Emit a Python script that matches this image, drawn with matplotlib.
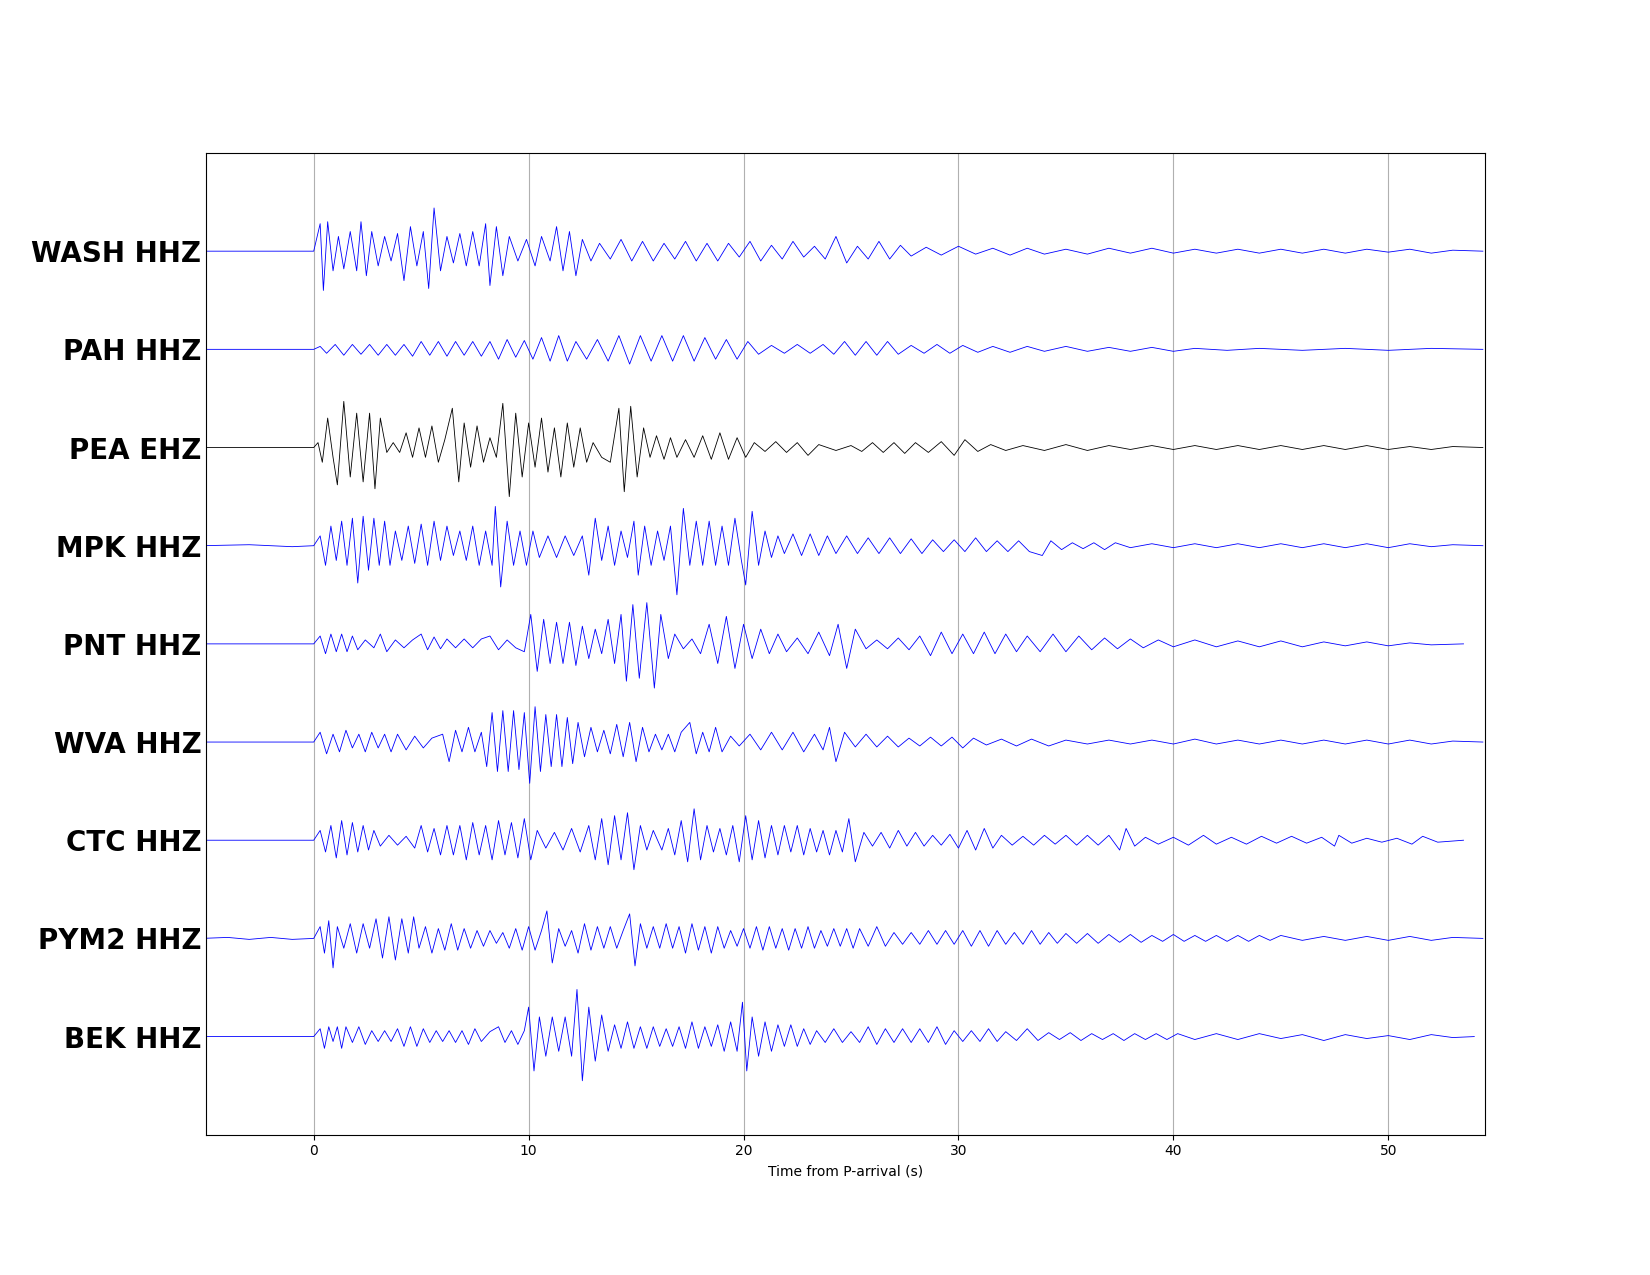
import matplotlib.pyplot as plt
import numpy as np

stations = ["WASH HHZ", "PAH HHZ", "PEA EHZ", "MPK HHZ", "PNT HHZ",
            "WVA HHZ", "CTC HHZ", "PYM2 HHZ", "BEK HHZ"]
colors = ["blue", "blue", "black", "blue", "blue", "blue", "blue", "blue", "blue"]

# peaks: (time s, amplitude in trace spacings)
wash = [(-5.2, 0), (0, 0), (0.3, 0.28), (0.45, -0.4), (0.65, 0.3), (0.9, -0.2), (1.15, 0.15),
        (1.4, -0.18), (1.7, 0.2), (2.0, -0.2), (2.2, 0.3), (2.45, -0.25), (2.7, 0.2), (3.0, -0.15),
        (3.3, 0.15), (3.6, -0.1), (3.9, 0.18), (4.2, -0.3), (4.5, 0.25), (4.8, -0.15), (5.1, 0.2),
        (5.35, -0.38), (5.6, 0.44), (5.9, -0.2), (6.2, 0.15), (6.5, -0.12), (6.8, 0.18), (7.1, -0.15),
        (7.4, 0.2), (7.7, -0.15), (8.0, 0.28), (8.2, -0.35), (8.5, 0.25), (8.8, -0.25), (9.1, 0.15),
        (9.5, -0.1), (9.9, 0.12), (10.3, -0.15), (10.6, 0.15), (11.0, -0.1), (11.3, 0.25),
        (11.6, -0.2), (11.9, 0.2), (12.2, -0.25), (12.5, 0.12), (12.9, -0.1), (13.3, 0.08),
        (13.8, -0.08), (14.3, 0.12), (14.8, -0.1), (15.3, 0.1), (15.8, -0.1), (16.3, 0.08),
        (16.8, -0.08), (17.3, 0.1), (17.8, -0.1), (18.3, 0.08), (18.8, -0.1), (19.3, 0.08),
        (19.8, -0.06), (20.3, 0.1), (20.8, -0.1), (21.3, 0.06), (21.8, -0.08), (22.3, 0.1),
        (22.8, -0.06), (23.3, 0.05), (23.8, -0.08), (24.3, 0.15), (24.8, -0.12), (25.3, 0.05),
        (25.8, -0.08), (26.3, 0.1), (26.8, -0.08), (27.3, 0.06), (27.8, -0.05), (28.5, 0.04),
        (29.2, -0.04), (30.0, 0.05), (30.8, -0.03), (31.6, 0.03), (32.4, -0.04), (33.2, 0.03),
        (34.0, -0.03), (35.0, 0.02), (36.0, -0.03), (37.0, 0.03), (38.0, -0.02), (39.0, 0.03),
        (40.0, -0.02), (41.0, 0.02), (42.0, -0.02), (43.0, 0.02), (44.0, -0.02), (45.0, 0.02),
        (46.0, -0.02), (47.0, 0.02), (48.0, -0.02), (49.0, 0.02), (50.0, -0.01), (51.0, 0.02),
        (52.0, -0.02), (53.0, 0.01), (54.4, 0)]

pah = [(-5.2, 0), (0, 0), (0.3, 0.03), (0.6, -0.04), (1.0, 0.05), (1.4, -0.06), (1.8, 0.05),
       (2.2, -0.05), (2.6, 0.05), (3.0, -0.06), (3.4, 0.05), (3.8, -0.06), (4.2, 0.05), (4.6, -0.07),
       (5.0, 0.08), (5.4, -0.06), (5.8, 0.08), (6.2, -0.07), (6.6, 0.08), (7.0, -0.06), (7.4, 0.08),
       (7.8, -0.07), (8.2, 0.08), (8.6, -0.1), (9.0, 0.1), (9.4, -0.08), (9.8, 0.09), (10.2, -0.1),
       (10.6, 0.12), (11.0, -0.12), (11.4, 0.14), (11.8, -0.12), (12.2, 0.08), (12.7, -0.1),
       (13.2, 0.1), (13.7, -0.12), (14.2, 0.14), (14.7, -0.15), (15.2, 0.14), (15.7, -0.12),
       (16.2, 0.14), (16.7, -0.12), (17.2, 0.14), (17.7, -0.12), (18.2, 0.12), (18.7, -0.1),
       (19.2, 0.1), (19.7, -0.1), (20.2, 0.08), (20.7, -0.05), (21.3, 0.04), (21.9, -0.04),
       (22.5, 0.05), (23.1, -0.04), (23.7, 0.05), (24.2, -0.05), (24.7, 0.08), (25.2, -0.06),
       (25.7, 0.08), (26.2, -0.06), (26.7, 0.08), (27.2, -0.05), (27.8, 0.04), (28.4, -0.04),
       (29.0, 0.05), (29.6, -0.04), (30.2, 0.04), (30.9, -0.03), (31.6, 0.03), (32.4, -0.03),
       (33.2, 0.03), (34.0, -0.02), (35.0, 0.03), (36.0, -0.02), (37.0, 0.02), (38.0, -0.02),
       (39.0, 0.02), (40.0, -0.02), (41.0, 0.01), (42.5, -0.01), (44.0, 0.01), (46.0, -0.01),
       (48.0, 0.01), (50.0, -0.01), (52.0, 0.01), (54.4, 0)]

pea = [(-5.2, 0), (0, 0), (0.2, 0.05), (0.4, -0.15), (0.65, 0.3), (0.9, -0.1), (1.1, -0.38),
       (1.4, 0.47), (1.7, -0.3), (2.0, 0.35), (2.3, -0.35), (2.6, 0.35), (2.85, -0.42),
       (3.1, 0.3), (3.4, -0.05), (3.7, 0.05), (4.0, -0.05), (4.3, 0.15), (4.6, -0.1), (4.9, 0.2),
       (5.2, -0.1), (5.5, 0.22), (5.8, -0.15), (6.1, 0.08), (6.45, 0.4), (6.75, -0.35),
       (7.0, 0.25), (7.3, -0.2), (7.6, 0.22), (7.9, -0.15), (8.2, 0.1), (8.5, -0.1),
       (8.8, 0.45), (9.1, -0.5), (9.4, 0.35), (9.7, -0.3), (10.0, 0.25), (10.3, -0.2), (10.6, 0.3),
       (10.9, -0.25), (11.2, 0.2), (11.5, -0.3), (11.8, 0.25), (12.1, -0.2), (12.4, 0.2),
       (12.7, -0.15), (13.0, 0.05), (13.4, -0.1), (13.8, -0.15), (14.2, 0.4), (14.45, -0.45),
       (14.75, 0.42), (15.05, -0.3), (15.35, 0.2), (15.65, -0.1), (15.95, 0.12), (16.3, -0.12),
       (16.6, 0.1), (16.9, -0.1), (17.3, 0.08), (17.7, -0.1), (18.1, 0.12), (18.5, -0.12),
       (18.9, 0.15), (19.3, -0.12), (19.7, 0.1), (20.1, -0.1), (20.5, 0.05), (21.0, -0.04),
       (21.5, 0.06), (22.0, -0.05), (22.5, 0.05), (23.0, -0.08), (23.5, 0.03), (24.3, -0.03),
       (25.0, 0.02), (25.5, -0.04), (26.0, 0.05), (26.5, -0.05), (27.0, 0.05), (27.5, -0.06),
       (28.0, 0.05), (28.6, -0.05), (29.2, 0.06), (29.8, -0.08), (30.3, 0.08), (30.9, -0.04),
       (31.5, 0.03), (32.2, -0.03), (33.0, 0.02), (34.0, -0.03), (35.0, 0.03), (36.0, -0.03),
       (37.0, 0.02), (38.0, -0.02), (39.0, 0.02), (40.0, -0.02), (41.0, 0.02), (42.0, -0.02),
       (43.0, 0.02), (44.0, -0.02), (45.0, 0.02), (46.0, -0.02), (47.0, 0.02), (48.0, -0.02),
       (49.0, 0.02), (50.0, -0.02), (51.0, 0.01), (52.0, -0.02), (53.0, 0.01), (54.4, 0)]

mpk = [(-5.2, 0), (-3.0, 0.01), (-1.0, -0.01), (0, 0), (0.3, 0.1), (0.55, -0.2), (0.8, 0.2),
       (1.05, -0.15), (1.3, 0.25), (1.55, -0.2), (1.8, 0.28), (2.05, -0.38), (2.3, 0.3),
       (2.55, -0.25), (2.8, 0.28), (3.05, -0.2), (3.3, 0.25), (3.55, -0.2), (3.8, 0.15),
       (4.1, -0.15), (4.4, 0.2), (4.7, -0.18), (5.0, 0.22), (5.3, -0.2), (5.6, 0.25),
       (5.9, -0.15), (6.2, 0.2), (6.5, -0.1), (6.8, 0.15), (7.1, -0.15), (7.4, 0.2), (7.7, -0.2),
       (8.0, 0.15), (8.3, -0.2), (8.45, 0.4), (8.7, -0.42), (9.0, 0.25), (9.3, -0.2),
       (9.6, 0.15), (9.9, -0.2), (10.2, 0.15), (10.5, -0.12), (10.9, 0.1), (11.3, -0.12),
       (11.7, 0.1), (12.1, -0.1), (12.5, 0.1), (12.8, -0.3), (13.1, 0.28), (13.4, -0.15),
       (13.7, 0.2), (14.0, -0.2), (14.3, 0.15), (14.6, -0.12), (14.9, 0.25), (15.1, -0.3),
       (15.4, 0.2), (15.7, -0.2), (16.0, 0.15), (16.3, -0.15), (16.6, 0.2), (16.9, -0.5),
       (17.2, 0.38), (17.5, -0.2), (17.8, 0.25), (18.1, -0.2), (18.4, 0.25), (18.7, -0.2),
       (19.0, 0.2), (19.3, -0.2), (19.6, 0.28), (19.9, -0.15), (20.1, -0.4), (20.4, 0.35),
       (20.7, -0.2), (21.0, 0.15), (21.3, -0.12), (21.6, 0.1), (21.9, -0.08), (22.3, 0.12),
       (22.7, -0.1), (23.1, 0.12), (23.5, -0.1), (23.9, 0.1), (24.3, -0.08), (24.8, 0.1),
       (25.3, -0.08), (25.8, 0.08), (26.3, -0.08), (26.8, 0.08), (27.3, -0.08), (27.8, 0.07),
       (28.3, -0.08), (28.8, 0.06), (29.3, -0.06), (29.8, 0.06), (30.3, -0.06), (30.8, 0.08),
       (31.3, -0.06), (31.8, 0.05), (32.3, -0.06), (32.8, 0.05), (33.3, -0.06), (33.9, -0.1),
       (34.3, 0.05), (34.8, -0.04), (35.3, 0.03), (35.8, -0.03), (36.3, 0.03), (36.8, -0.04),
       (37.3, 0.03), (38.0, -0.02), (39.0, 0.02), (40.0, -0.02), (41.0, 0.02), (42.0, -0.02),
       (43.0, 0.02), (44.0, -0.02), (45.0, 0.02), (46.0, -0.02), (47.0, 0.02), (48.0, -0.02),
       (49.0, 0.02), (50.0, -0.02), (51.0, 0.02), (52.0, -0.01), (53.0, 0.01), (54.4, 0)]

pnt = [(-5.2, 0), (0, 0), (0.3, 0.08), (0.55, -0.1), (0.8, 0.1), (1.05, -0.08), (1.3, 0.1),
       (1.55, -0.08), (1.8, 0.08), (2.05, -0.06), (2.4, 0.04), (2.8, -0.04), (3.1, 0.1),
       (3.4, -0.08), (3.8, 0.04), (4.2, -0.04), (4.6, 0.04), (5.0, 0.1), (5.3, -0.06),
       (5.6, 0.07), (5.9, -0.05), (6.2, 0.05), (6.6, -0.04), (7.0, 0.05), (7.4, -0.04),
       (7.8, 0.05), (8.2, 0.08), (8.6, -0.06), (9.0, 0.04), (9.4, -0.04), (9.8, -0.08),
       (10.1, 0.3), (10.4, -0.28), (10.7, 0.25), (11.0, -0.2), (11.3, 0.22), (11.6, -0.2),
       (11.9, 0.22), (12.2, -0.22), (12.5, 0.18), (12.8, -0.15), (13.1, 0.15), (13.4, -0.1),
       (13.7, 0.25), (14.0, -0.2), (14.3, 0.3), (14.55, -0.38), (14.85, 0.4), (15.15, -0.35),
       (15.5, 0.42), (15.85, -0.45), (16.15, 0.3), (16.5, -0.15), (16.8, 0.1), (17.2, -0.05),
       (17.6, 0.05), (18.0, -0.1), (18.4, 0.2), (18.8, -0.2), (19.2, 0.28), (19.6, -0.25),
       (20.0, 0.2), (20.4, -0.15), (20.8, 0.15), (21.2, -0.1), (21.6, 0.1), (22.0, -0.08),
       (22.5, 0.06), (23.0, -0.1), (23.5, 0.12), (24.0, -0.12), (24.4, 0.2), (24.8, -0.25),
       (25.2, 0.15), (25.7, -0.05), (26.2, 0.04), (26.7, -0.05), (27.2, 0.06), (27.7, -0.06),
       (28.2, 0.08), (28.7, -0.12), (29.2, 0.12), (29.7, -0.1), (30.2, 0.1), (30.7, -0.1),
       (31.2, 0.12), (31.7, -0.1), (32.2, 0.1), (32.7, -0.08), (33.2, 0.08), (33.8, -0.08),
       (34.4, 0.1), (35.0, -0.08), (35.6, 0.08), (36.2, -0.06), (36.8, 0.06), (37.4, -0.05),
       (38.0, 0.05), (38.6, -0.04), (39.3, 0.04), (40.0, -0.03), (41.0, 0.04), (42.0, -0.03),
       (43.0, 0.03), (44.0, -0.03), (45.0, 0.03), (46.0, -0.03), (47.0, 0.02), (48.0, -0.02),
       (49.0, 0.02), (50.0, -0.02), (51.0, 0.01), (52.0, -0.01), (53.5, 0)]

wva = [(-5.2, 0), (0, 0), (0.3, 0.1), (0.6, -0.12), (0.9, 0.08), (1.2, -0.1), (1.5, 0.12),
       (1.8, -0.06), (2.1, 0.08), (2.4, -0.1), (2.7, 0.1), (3.0, -0.06), (3.3, 0.08),
       (3.6, -0.1), (3.9, 0.08), (4.3, -0.08), (4.7, 0.06), (5.1, -0.06), (5.5, 0.04),
       (6.0, 0.08), (6.3, -0.2), (6.6, 0.12), (6.9, -0.1), (7.2, 0.15), (7.5, -0.1), (7.8, 0.1),
       (8.05, -0.25), (8.3, 0.3), (8.55, -0.3), (8.8, 0.32), (9.05, -0.3), (9.3, 0.32),
       (9.55, -0.28), (9.8, 0.3), (10.05, -0.42), (10.3, 0.36), (10.55, -0.3), (10.8, 0.28),
       (11.05, -0.25), (11.3, 0.28), (11.55, -0.25), (11.8, 0.25), (12.05, -0.22), (12.3, 0.2),
       (12.6, -0.15), (12.9, 0.15), (13.2, -0.1), (13.5, 0.12), (13.8, -0.12), (14.1, 0.18),
       (14.4, -0.15), (14.7, 0.2), (15.0, -0.2), (15.3, 0.15), (15.6, -0.1), (15.9, 0.08),
       (16.2, -0.08), (16.5, 0.08), (16.8, -0.1), (17.1, 0.1), (17.5, 0.2), (17.8, -0.12),
       (18.1, 0.1), (18.4, -0.1), (18.7, 0.15), (19.0, -0.1), (19.4, 0.06), (19.8, -0.04),
       (20.3, 0.08), (20.8, -0.08), (21.3, 0.1), (21.8, -0.08), (22.3, 0.1), (22.8, -0.1),
       (23.3, 0.08), (23.7, -0.08), (24.0, 0.15), (24.3, -0.2), (24.7, 0.1), (25.2, -0.05),
       (25.7, 0.08), (26.2, -0.05), (26.7, 0.06), (27.2, -0.05), (27.7, 0.04), (28.2, -0.04),
       (28.7, 0.05), (29.2, -0.04), (29.7, 0.05), (30.2, -0.06), (30.7, 0.04), (31.3, -0.03),
       (32.0, 0.03), (32.7, -0.04), (33.4, 0.03), (34.2, -0.04), (35.0, 0.02), (36.0, -0.02),
       (37.0, 0.02), (38.0, -0.02), (39.0, 0.02), (40.0, -0.02), (41.0, 0.03), (42.0, -0.02),
       (43.0, 0.02), (44.0, -0.02), (45.0, 0.02), (46.0, -0.02), (47.0, 0.02), (48.0, -0.02),
       (49.0, 0.02), (50.0, -0.02), (51.0, 0.02), (52.0, -0.02), (53.0, 0.01), (54.4, 0)]

ctc = [(-5.2, 0), (0, 0), (0.3, 0.1), (0.55, -0.12), (0.8, 0.15), (1.05, -0.18), (1.3, 0.2),
       (1.55, -0.15), (1.8, 0.18), (2.05, -0.12), (2.3, 0.15), (2.55, -0.1), (2.8, 0.1),
       (3.1, -0.06), (3.5, 0.05), (3.9, -0.05), (4.3, 0.04), (4.7, -0.08), (5.0, 0.15),
       (5.3, -0.12), (5.6, 0.12), (5.9, -0.15), (6.2, 0.15), (6.5, -0.15), (6.8, 0.15),
       (7.1, -0.2), (7.4, 0.18), (7.7, -0.15), (8.0, 0.15), (8.3, -0.2), (8.6, 0.2),
       (8.9, -0.15), (9.2, 0.18), (9.5, -0.18), (9.8, 0.22), (10.1, -0.2), (10.4, 0.1),
       (10.8, -0.08), (11.2, 0.08), (11.6, -0.1), (12.0, 0.12), (12.4, -0.12), (12.8, 0.15),
       (13.1, -0.2), (13.4, 0.22), (13.7, -0.25), (14.0, 0.25), (14.3, -0.2), (14.6, 0.28),
       (14.9, -0.3), (15.2, 0.15), (15.5, -0.1), (15.8, 0.1), (16.2, -0.1), (16.5, 0.12),
       (16.8, -0.15), (17.1, 0.2), (17.4, -0.22), (17.7, 0.32), (18.0, -0.2), (18.3, 0.15),
       (18.6, -0.12), (18.9, 0.12), (19.2, -0.15), (19.5, 0.15), (19.8, -0.22), (20.1, 0.25),
       (20.4, -0.2), (20.7, 0.2), (21.0, -0.18), (21.3, 0.15), (21.6, -0.15), (21.9, 0.15),
       (22.2, -0.12), (22.5, 0.15), (22.8, -0.15), (23.1, 0.12), (23.4, -0.12), (23.7, 0.1),
       (24.0, -0.15), (24.3, 0.1), (24.6, -0.12), (24.9, 0.22), (25.2, -0.22), (25.6, 0.08),
       (26.0, -0.06), (26.4, 0.08), (26.8, -0.08), (27.2, 0.1), (27.6, -0.06), (28.0, 0.08),
       (28.4, -0.06), (28.8, 0.05), (29.2, -0.05), (29.6, 0.06), (30.0, -0.08), (30.4, 0.1),
       (30.8, -0.1), (31.2, 0.12), (31.6, -0.08), (32.0, 0.05), (32.5, -0.05), (33.0, 0.04),
       (33.5, -0.05), (34.0, 0.05), (34.5, -0.04), (35.0, 0.05), (35.5, -0.05), (36.0, 0.05),
       (36.5, -0.05), (37.0, 0.05), (37.5, -0.1), (37.8, 0.12), (38.2, -0.06), (38.7, 0.03),
       (39.3, -0.04), (40.0, 0.03), (40.7, -0.05), (41.4, 0.05), (42.0, -0.04), (42.7, 0.03),
       (43.4, -0.04), (44.1, 0.04), (44.8, -0.03), (45.5, 0.04), (46.2, -0.03), (46.9, 0.03),
       (47.5, -0.06), (47.7, 0.05), (48.3, -0.03), (49.0, 0.02), (49.7, -0.02), (50.4, 0.02),
       (51.1, -0.04), (51.6, 0.04), (52.3, -0.02), (53.5, 0)]

pym2 = [(-5.2, 0), (-4.0, 0.01), (-3.0, -0.01), (-2.0, 0.01), (-1.0, -0.01), (0, 0), (0.3, 0.12),
        (0.5, -0.15), (0.7, 0.18), (0.9, -0.3), (1.1, 0.12), (1.4, -0.1), (1.7, 0.15),
        (2.0, -0.15), (2.3, 0.15), (2.6, -0.1), (2.9, 0.2), (3.2, -0.2), (3.5, 0.22),
        (3.8, -0.22), (4.1, 0.2), (4.4, -0.15), (4.65, 0.22), (4.9, -0.1), (5.2, 0.12),
        (5.5, -0.15), (5.8, 0.1), (6.1, -0.12), (6.4, 0.15), (6.7, -0.12), (7.0, 0.1),
        (7.3, -0.1), (7.6, 0.08), (7.9, -0.08), (8.2, 0.08), (8.5, -0.05), (8.8, 0.06),
        (9.1, -0.1), (9.4, 0.1), (9.7, -0.12), (10.0, 0.12), (10.3, -0.12), (10.6, 0.08),
        (10.85, 0.28), (11.1, -0.25), (11.4, 0.1), (11.7, -0.08), (12.0, 0.08), (12.3, -0.15),
        (12.6, 0.15), (12.9, -0.12), (13.2, 0.12), (13.5, -0.1), (13.8, 0.12), (14.1, -0.1),
        (14.4, 0.08), (14.7, 0.25), (14.95, -0.28), (15.2, 0.15), (15.5, -0.1), (15.8, 0.12),
        (16.1, -0.1), (16.4, 0.15), (16.7, -0.1), (17.0, 0.12), (17.3, -0.15), (17.6, 0.15),
        (17.9, -0.12), (18.2, 0.12), (18.5, -0.15), (18.8, 0.12), (19.1, -0.1), (19.4, 0.08),
        (19.7, -0.08), (20.0, 0.1), (20.3, -0.1), (20.6, 0.12), (20.9, -0.12), (21.2, 0.12),
        (21.5, -0.1), (21.8, 0.1), (22.1, -0.12), (22.4, 0.1), (22.7, -0.1), (23.0, 0.12),
        (23.3, -0.1), (23.6, 0.08), (23.9, -0.08), (24.2, 0.1), (24.5, -0.08), (24.8, 0.1),
        (25.1, -0.1), (25.4, 0.1), (25.8, -0.08), (26.2, 0.12), (26.6, -0.08), (27.0, 0.06),
        (27.4, -0.06), (27.8, 0.06), (28.2, -0.06), (28.6, 0.08), (29.0, -0.06), (29.4, 0.08),
        (29.8, -0.06), (30.2, 0.08), (30.6, -0.08), (31.0, 0.08), (31.4, -0.08), (31.8, 0.08),
        (32.2, -0.06), (32.6, 0.06), (33.0, -0.06), (33.4, 0.08), (33.8, -0.06), (34.2, 0.06),
        (34.6, -0.05), (35.0, 0.05), (35.5, -0.05), (36.0, 0.05), (36.5, -0.05), (37.0, 0.04),
        (37.5, -0.04), (38.0, 0.04), (38.5, -0.04), (39.0, 0.03), (39.5, -0.03), (40.0, 0.04),
        (40.5, -0.03), (41.0, 0.03), (41.5, -0.03), (42.0, 0.03), (42.5, -0.03), (43.0, 0.03),
        (43.5, -0.03), (44.0, 0.03), (44.5, -0.02), (45.0, 0.03), (46.0, -0.02), (47.0, 0.02),
        (48.0, -0.02), (49.0, 0.02), (50.0, -0.02), (51.0, 0.02), (52.0, -0.02), (53.0, 0.01),
        (54.4, 0)]

bek = [(-5.2, 0), (0, 0), (0.3, 0.08), (0.5, -0.12), (0.7, 0.1), (0.9, -0.05), (1.1, 0.1),
       (1.3, -0.12), (1.5, 0.1), (1.8, -0.06), (2.1, 0.1), (2.4, -0.08), (2.7, 0.06), (3.0, -0.05),
       (3.3, 0.06), (3.6, -0.05), (3.9, 0.08), (4.2, -0.1), (4.5, 0.1), (4.8, -0.1), (5.1, 0.08),
       (5.4, -0.06), (5.7, 0.06), (6.0, -0.05), (6.3, 0.06), (6.6, -0.06), (6.9, 0.06),
       (7.2, -0.08), (7.5, 0.08), (7.8, -0.05), (8.2, 0.05), (8.6, 0.1), (8.9, -0.06),
       (9.2, 0.06), (9.5, -0.08), (9.8, 0.06), (10.0, 0.3), (10.25, -0.35), (10.5, 0.2),
       (10.8, -0.2), (11.1, 0.2), (11.4, -0.15), (11.7, 0.2), (12.0, -0.2), (12.25, 0.48),
       (12.5, -0.45), (12.8, 0.3), (13.1, -0.25), (13.4, 0.22), (13.7, -0.15), (14.0, 0.12),
       (14.3, -0.12), (14.6, 0.15), (14.9, -0.12), (15.2, 0.1), (15.5, -0.12), (15.8, 0.1),
       (16.1, -0.1), (16.4, 0.08), (16.7, -0.1), (17.0, 0.1), (17.3, -0.12), (17.6, 0.15),
       (17.9, -0.12), (18.2, 0.1), (18.5, -0.1), (18.8, 0.12), (19.1, -0.15), (19.4, 0.15),
       (19.7, -0.15), (19.95, 0.35), (20.15, -0.35), (20.4, 0.2), (20.7, -0.2), (21.0, 0.15),
       (21.3, -0.15), (21.6, 0.12), (21.9, -0.1), (22.2, 0.12), (22.5, -0.1), (22.8, 0.08),
       (23.1, -0.08), (23.4, 0.06), (23.8, -0.06), (24.2, 0.08), (24.6, -0.06), (25.0, 0.05),
       (25.4, -0.06), (25.8, 0.1), (26.2, -0.08), (26.6, 0.08), (27.0, -0.06), (27.4, 0.08),
       (27.8, -0.06), (28.2, 0.08), (28.6, -0.06), (29.0, 0.1), (29.4, -0.08), (29.8, 0.06),
       (30.2, -0.05), (30.6, 0.06), (31.0, -0.05), (31.4, 0.08), (31.8, -0.05), (32.2, 0.05),
       (32.7, -0.04), (33.2, 0.08), (33.7, -0.04), (34.2, 0.04), (34.7, -0.03), (35.2, 0.04),
       (35.7, -0.04), (36.2, 0.03), (36.7, -0.03), (37.2, 0.03), (37.7, -0.04), (38.2, 0.03),
       (38.7, -0.03), (39.2, 0.03), (39.7, -0.03), (40.2, 0.03), (41.0, -0.03), (42.0, 0.03),
       (43.0, -0.03), (44.0, 0.03), (45.0, -0.02), (46.0, 0.02), (47.0, -0.04), (48.0, 0.02),
       (49.0, -0.02), (50.0, 0.01), (51.0, -0.03), (52.0, 0.02), (53.0, -0.01), (54.0, 0)]

traces = [wash, pah, pea, mpk, pnt, wva, ctc, pym2, bek]

fig, ax = plt.subplots(figsize=(16.5, 12.75), dpi=100)
offsets = np.arange(len(stations))[::-1]
for trace, off, col in zip(traces, offsets, colors):
    arr = np.array(trace)
    ax.plot(arr[:, 0], arr[:, 1] + off, color=col, linewidth=0.6)

ax.set_yticks(offsets)
ax.set_yticklabels(stations, fontsize=20, fontweight='bold')
ax.tick_params(axis='y', length=0)
ax.set_ylim(-1, 9)
ax.set_xlim(-5, 54.5)
ax.set_xticks([0, 10, 20, 30, 40, 50])
ax.grid(axis='x')
ax.set_xlabel("Time from P-arrival (s)")
fig.subplots_adjust(left=0.125, right=0.9, top=0.88, bottom=0.11)
fig.savefig("out.png")
